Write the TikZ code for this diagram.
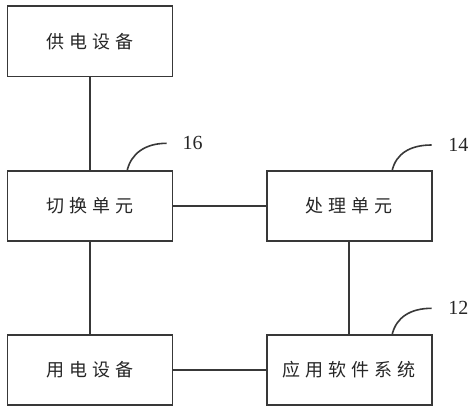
\documentclass[tikz,border=0pt]{standalone}
\usepackage{fontspec}
\setmainfont{Liberation Serif}
\newfontfamily\cjk[LetterSpace=28]{Noto Sans CJK SC}
\begin{document}
\begin{tikzpicture}[x=1pt,y=1pt,
  box/.style={draw=black!78, line width=1.6pt, minimum width=165pt, minimum height=70.5pt, inner sep=0pt, font=\cjk\fontsize{18pt}{21pt}\selectfont, text=black!85},
  conn/.style={draw=black!78, line width=1.6pt},
  lead/.style={draw=black!78, line width=1.6pt},
  num/.style={font=\fontsize{20pt}{22pt}\selectfont, text=black!85, inner sep=0pt}]
\useasboundingbox (0,0) rectangle (474,412);
\node[box] (A) at (89.8,370.7) {供电设备};
\node[box] (B) at (89.8,206) {切换单元};
\node[box] (C) at (89.8,42) {用电设备};
\node[box] (D) at (349.2,206) {处理单元};
\node[box] (E) at (349.2,42) {应用软件系统};
\draw[conn] (A) -- (B);
\draw[conn] (B) -- (C);
\draw[conn] (B) -- (D);
\draw[conn] (C) -- (E);
\draw[conn] (D) -- (E);
\coordinate (e16) at (166.7,268.7);
\coordinate (e14) at (431.7,267);
\coordinate (e12) at (431.7,103.7);
\draw[lead] ([xshift=37.5pt]B.north) .. controls +(4,16) and +(-22,0) .. (e16);
\draw[lead] ([xshift=43.1pt]D.north) .. controls +(4,16) and +(-22,0) .. (e14);
\draw[lead] ([xshift=43.1pt]E.north) .. controls +(4,16) and +(-22,0) .. (e12);
\node[num] (n16) at (192.7,269.3) {16};
\node[num] (n14) at (458.3,267) {14};
\node[num] (n12) at (458.3,103.7) {12};
\end{tikzpicture}
\end{document}
